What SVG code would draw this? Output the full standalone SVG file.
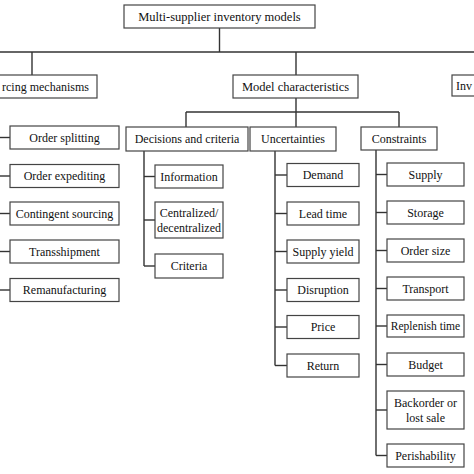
<svg xmlns="http://www.w3.org/2000/svg" width="474" height="474" viewBox="0 0 474 474">
<style>
rect{fill:#fff;stroke:#444;stroke-width:1.2}
text{font-family:"Liberation Serif","Times New Roman",serif;font-size:12px;fill:#111;text-anchor:middle;dominant-baseline:central}
.c line{stroke:#333;stroke-width:1.4;fill:none}
</style>
<rect x="0" y="0" width="474" height="474" style="fill:#fff;stroke:none"/>
<g class="c" id="connectors">
<line x1="219.5" y1="28" x2="219.5" y2="52"/>
<line x1="0" y1="52" x2="474" y2="52"/>
<line x1="32" y1="52" x2="32" y2="75"/>
<line x1="296" y1="52" x2="296" y2="75"/>
<line x1="296" y1="98" x2="296" y2="127"/>
<line x1="186" y1="112" x2="399" y2="112"/>
<line x1="186" y1="112" x2="186" y2="127"/>
<line x1="399" y1="112" x2="399" y2="127"/>
<line x1="0" y1="137.5" x2="10" y2="137.5"/>
<line x1="0" y1="176" x2="10" y2="176"/>
<line x1="0" y1="213.5" x2="10" y2="213.5"/>
<line x1="0" y1="251.5" x2="10" y2="251.5"/>
<line x1="0" y1="290" x2="10" y2="290"/>
<line x1="144" y1="151" x2="144" y2="266"/>
<line x1="144" y1="176.5" x2="155" y2="176.5"/>
<line x1="144" y1="220" x2="155" y2="220"/>
<line x1="144" y1="266" x2="155" y2="266"/>
<line x1="275" y1="151" x2="275" y2="365.5"/>
<line x1="275" y1="175" x2="287" y2="175"/>
<line x1="275" y1="213.5" x2="287" y2="213.5"/>
<line x1="275" y1="251.5" x2="287" y2="251.5"/>
<line x1="275" y1="290" x2="287" y2="290"/>
<line x1="275" y1="327" x2="287" y2="327"/>
<line x1="275" y1="365.5" x2="287" y2="365.5"/>
<line x1="376" y1="150" x2="376" y2="455.5"/>
<line x1="376" y1="174.5" x2="387" y2="174.5"/>
<line x1="376" y1="212.5" x2="387" y2="212.5"/>
<line x1="376" y1="250.5" x2="387" y2="250.5"/>
<line x1="376" y1="288.5" x2="387" y2="288.5"/>
<line x1="376" y1="326" x2="387" y2="326"/>
<line x1="376" y1="364.5" x2="387" y2="364.5"/>
<line x1="376" y1="410" x2="387" y2="410"/>
<line x1="376" y1="455.5" x2="387" y2="455.5"/>
</g>
<g id="root"><rect x="124" y="5" width="191" height="23"/><text x="219.5" y="16.5" style="font-size:12.5px">Multi-supplier inventory models</text></g>
<g id="sourcing"><rect x="-5" y="75" width="102" height="23"/><text x="2" y="86.5" style="text-anchor:start">rcing mechanisms</text></g>
<g id="model"><rect x="233" y="75" width="125" height="23"/><text x="295.5" y="86.5" style="font-size:12.5px">Model characteristics</text></g>
<g id="inv"><rect x="452" y="75" width="30" height="21"/><text x="456" y="85.5" style="text-anchor:start">Inv</text></g>
<g id="decisions"><rect x="126" y="127" width="122" height="24"/><text x="187" y="139">Decisions and criteria</text></g>
<g id="uncertainties"><rect x="250" y="127" width="86" height="24"/><text x="293" y="139">Uncertainties</text></g>
<g id="constraints"><rect x="361" y="127" width="76" height="23"/><text x="399" y="138.5">Constraints</text></g>
<g id="order-splitting"><rect x="10" y="126" width="109" height="23"/><text x="64.5" y="137.5">Order splitting</text></g>
<g id="order-expediting"><rect x="10" y="164.5" width="109" height="23"/><text x="64.5" y="176">Order expediting</text></g>
<g id="contingent"><rect x="10" y="202" width="109" height="23"/><text x="64.5" y="213.5">Contingent sourcing</text></g>
<g id="transshipment"><rect x="10" y="240" width="109" height="23"/><text x="64.5" y="251.5">Transshipment</text></g>
<g id="remanufacturing"><rect x="10" y="278.5" width="109" height="23"/><text x="64.5" y="290">Remanufacturing</text></g>
<g id="information"><rect x="155" y="165" width="68" height="23"/><text x="189" y="176.5">Information</text></g>
<g id="centralized"><rect x="155" y="202" width="68" height="36"/><text x="189" y="212.5">Centralized/</text><text x="189" y="228">decentralized</text></g>
<g id="criteria"><rect x="155" y="254" width="68" height="24"/><text x="189" y="266">Criteria</text></g>
<g id="demand"><rect x="287" y="163.5" width="72" height="23"/><text x="323" y="175">Demand</text></g>
<g id="lead-time"><rect x="287" y="202" width="72" height="23"/><text x="323" y="213.5">Lead time</text></g>
<g id="supply-yield"><rect x="287" y="240" width="72" height="23"/><text x="323" y="251.5">Supply yield</text></g>
<g id="disruption"><rect x="287" y="278.5" width="72" height="23"/><text x="323" y="290">Disruption</text></g>
<g id="price"><rect x="287" y="315.5" width="72" height="23"/><text x="323" y="327">Price</text></g>
<g id="return"><rect x="287" y="354" width="72" height="23"/><text x="323" y="365.5">Return</text></g>
<g id="supply"><rect x="387" y="163" width="77" height="23"/><text x="425.5" y="174.5">Supply</text></g>
<g id="storage"><rect x="387" y="201" width="77" height="23"/><text x="425.5" y="212.5">Storage</text></g>
<g id="order-size"><rect x="387" y="239" width="77" height="23"/><text x="425.5" y="250.5">Order size</text></g>
<g id="transport"><rect x="387" y="277" width="77" height="23"/><text x="425.5" y="288.5">Transport</text></g>
<g id="replenish"><rect x="387" y="315" width="77" height="22"/><text x="425.5" y="326" style="font-size:11.5px">Replenish time</text></g>
<g id="budget"><rect x="387" y="353" width="77" height="23"/><text x="425.5" y="364.5">Budget</text></g>
<g id="backorder"><rect x="387" y="391" width="77" height="38"/><text x="425.5" y="402.5">Backorder or</text><text x="425.5" y="418">lost sale</text></g>
<g id="perishability"><rect x="387" y="444" width="77" height="23"/><text x="425.5" y="455.5">Perishability</text></g>
</svg>
